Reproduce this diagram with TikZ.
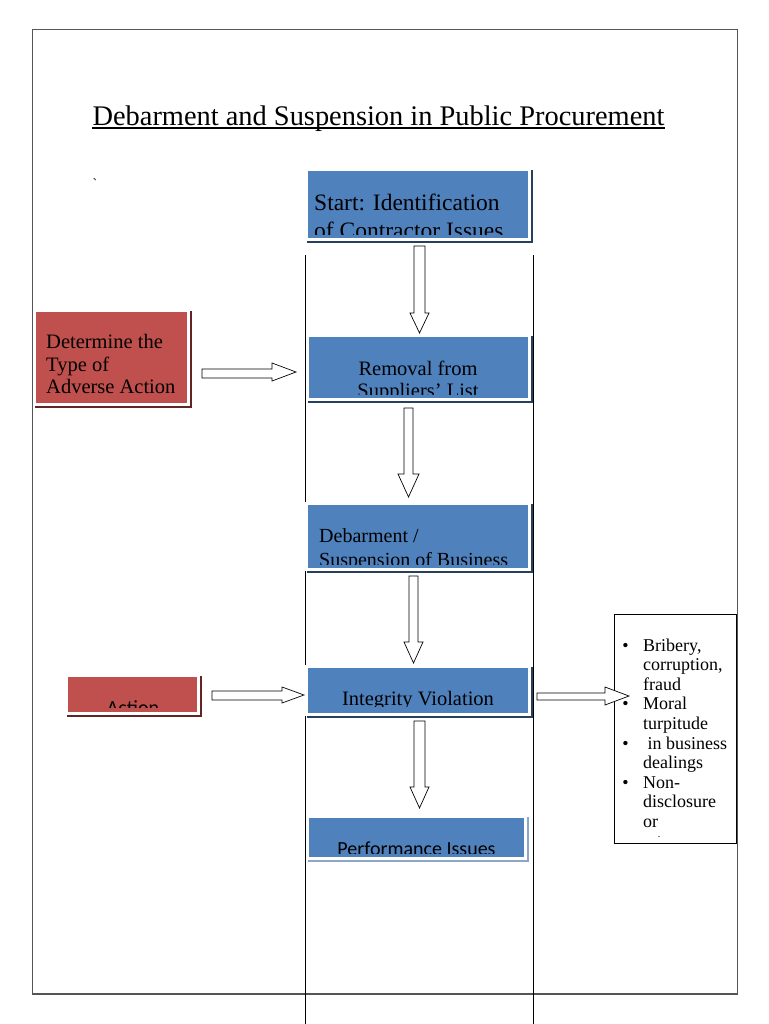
\documentclass[tikz,border=0pt]{standalone}
\usepackage{fontspec}
\setmainfont{Liberation Serif}
\newfontfamily\carlito{Carlito}
\definecolor{boxblue}{RGB}{79,129,189}
\definecolor{edgeblue}{RGB}{38,64,96}
\definecolor{softedge}{RGB}{140,165,200}
\definecolor{boxred}{RGB}{192,80,77}
\definecolor{edgered}{RGB}{99,37,35}
\definecolor{rimgray}{RGB}{222,222,222}
\definecolor{framegray}{RGB}{85,85,85}
\tikzset{
  rim/.style={draw=rimgray, double=white, double distance=2.4pt, line width=0.5pt, inner sep=0pt},
  bluebox/.style={rim, fill=boxblue},
  redbox/.style={rim, fill=boxred},
  blockarrow/.style={draw=black, fill=white, line width=0.7pt, line join=miter},
  boxtext/.style={inner sep=0pt, text=black},
  listbox/.style={draw=black, line width=0.8pt, fill=white, inner sep=0pt},
}
\newcommand\flowbox[7]{% name, style, shadow colour, cx, cy, w, h
  \fill[#3] (#4-#6/2+0.3, #5-#7/2+0.3) rectangle (#4+#6/2+3.7, #5+#7/2+3.7);
  \node[#2, minimum width=#6, minimum height=#7] (#1) at (#4,#5) {};
}
\newcommand\blkdown[7]{% shaft x1, x2, top, head start, head x1, head x2, tip y
  \draw[blockarrow] (#1,#3) -- (#2,#3) -- (#2,#4) -- (#6,#4) -- ({(#5+#6)/2},#7) -- (#5,#4) -- (#1,#4) -- cycle;
}
\newcommand\blkright[7]{% left x, shaft y1, y2, head start, head y1, head y2, tip x
  \draw[blockarrow] (#1,#2) -- (#4,#2) -- (#4,#5) -- (#7,{(#5+#6)/2}) -- (#4,#6) -- (#4,#3) -- (#1,#3) -- cycle;
}
\begin{document}
\begin{tikzpicture}[x=1pt,y=-1pt]
\useasboundingbox (0,0) rectangle (768,1024);
\fill[white] (0,0) rectangle (768,1024);

% page frame and column lines
\draw[framegray, line width=1pt] (32,30) rectangle (737,994);
\draw[framegray, line width=2pt] (32,994) -- (737,994);
\draw[black, line width=1pt] (305,255) -- (305,1024);
\draw[black, line width=1pt] (533,255) -- (533,1024);

% title
\node[boxtext, anchor=base, font=\fontsize{28.4}{31}\selectfont] (title) at (378.5,125.7)
  {Debarment and Suspension in Public Procurement};
\draw[line width=1.4pt] ([yshift=-2.5pt]title.base west) -- ([yshift=-2.5pt]title.base east);
\node[boxtext, font=\fontsize{14}{16}\selectfont] (tick) at (95,184) {\textasciigrave};

% central column boxes
\flowbox{b1}{bluebox}{edgeblue}{418}{204.5}{223}{70}
\flowbox{b2}{bluebox}{edgeblue}{418.5}{367.5}{222}{64}
\flowbox{b3}{bluebox}{edgeblue}{418}{536.5}{223}{66}
\flowbox{b4}{bluebox}{edgeblue}{418}{690.5}{223}{48}
\flowbox{b5}{bluebox}{softedge}{416.5}{837.5}{218}{42}

% side boxes
\flowbox{r1}{redbox}{edgered}{111.5}{357.5}{154}{94}
\flowbox{r2}{redbox}{edgered}{132.5}{694.5}{132}{38}
\node[listbox, minimum width=122, minimum height=229] (rb) at (675,728.5) {};

% box texts (cut off at the bottom as in the original); base = last line
\begin{scope}
  \clip (300,160) rectangle (540,234.5);
  \node[boxtext, anchor=base west, align=left, font=\fontsize{23.5}{27.5}\selectfont] (t1) at (314,238)
    {Start: Identification\\of Contractor Issues};
\end{scope}
\begin{scope}
  \clip (300,330) rectangle (540,394);
  \node[boxtext, anchor=base, align=center, font=\fontsize{20.5}{22}\selectfont] (t2) at (418,397.5)
    {Removal from\\Suppliers’ List};
\end{scope}
\begin{scope}
  \clip (300,500) rectangle (540,564);
  \node[boxtext, anchor=base west, align=left, font=\fontsize{20}{24}\selectfont] (t3) at (319,566)
    {Debarment /\\Suspension of Business};
\end{scope}
\begin{scope}
  \clip (300,660) rectangle (540,706.5);
  \node[boxtext, anchor=base, font=\fontsize{20.5}{22}\selectfont] (t4) at (418,705.5)
    {Integrity Violation};
\end{scope}
\begin{scope}
  \clip (300,810) rectangle (540,853);
  \node[boxtext, anchor=base, font=\carlito\fontsize{20}{22}\selectfont] (t5) at (416.5,855.2)
    {Performance Issues};
\end{scope}
\node[boxtext, anchor=base west, align=left, font=\fontsize{20.5}{22.5}\selectfont] (tr1) at (46,393.6)
  {Determine the\\Type of\\Adverse Action};
\begin{scope}
  \clip (60,670) rectangle (210,707);
  \node[boxtext, anchor=base, font=\carlito\fontsize{20}{22}\selectfont] (tr2) at (133,714)
    {Action};
\end{scope}
\node[boxtext, anchor=base west, align=left, font=\fontsize{18}{19.6}\selectfont] (list) at (643,827.4)
  {\llap{•\hspace{14.5pt}}Bribery,\\corruption,\\fraud\\
   \llap{•\hspace{14.5pt}}Moral\\turpitude\\
   \llap{•\hspace{14.5pt}}\hspace{4.5pt}in business\\dealings\\
   \llap{•\hspace{14.5pt}}Non-\\disclosure\\or};
\node[boxtext, anchor=base, font=\fontsize{10}{12}\selectfont] (dot) at (659,837) {.};

% block arrows
\blkdown{414}{425}{246}{313}{410}{429}{333}
\blkdown{404}{413}{408}{474}{398}{419}{497}
\blkdown{409}{418}{576}{642}{404}{423}{663}
\blkdown{414}{425}{721}{787}{410}{429}{808}
\blkright{202}{369}{378}{272}{363}{381}{296}
\blkright{212}{691}{700}{282}{687}{703}{304}
\blkright{537}{693}{700}{605}{687}{705}{629}
\end{tikzpicture}
\end{document}
